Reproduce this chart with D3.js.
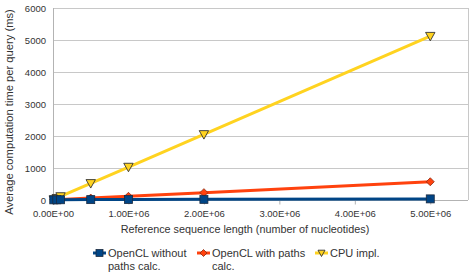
<!DOCTYPE html>
<html>
<head>
<meta charset="utf-8">
<script src="https://cdn.jsdelivr.net/npm/d3@7"></script>
<style>
body { margin: 0; background: #fff; }
text { font-family: "Liberation Sans", Arial, sans-serif; fill: #333; }
</style>
</head>
<body>
<svg id="chart" width="474" height="278"></svg>
<script>
// data
var lengths = [10000, 50000, 100000, 500000, 1000000, 2000000, 5000000]
var openclNoPaths = [5, 6, 8, 12, 15, 20, 35]
var openclPaths = [8, 12, 18, 60, 115, 230, 570]
var cpuImpl = [12, 55, 110, 520, 1030, 2050, 5120]
var xTicks = [0, 1e6, 2e6, 3e6, 4e6, 5e6]
var yTicks = [0, 1000, 2000, 3000, 4000, 5000, 6000]

var series = [
  {name: ["OpenCL without", "paths calc."], values: openclNoPaths, color: "#004586", marker: "square"},
  {name: ["OpenCL with paths", "calc."], values: openclPaths, color: "#ff420e", marker: "diamond"},
  {name: ["CPU impl."], values: cpuImpl, color: "#ffd320", marker: "triangle"}
]

var svg = d3.select("#chart")
var plotLeft = 53, plotRight = 468, plotTop = 8, plotBottom = 200

var x = d3.scaleLinear().domain([0, 5.5e6]).range([plotLeft, plotRight])
var y = d3.scaleLinear().domain([0, 6000]).range([plotBottom, plotTop])

// grid
svg.append("g").selectAll("line")
  .data(yTicks)
  .enter().append("line")
  .attr("x1", plotLeft).attr("x2", plotRight)
  .attr("y1", function(d){ return y(d) + 0.5 }).attr("y2", function(d){ return y(d) + 0.5 })
  .style("stroke", "#c8c8c8")

svg.append("line").attr("x1", plotRight + 0.5).attr("x2", plotRight + 0.5).attr("y1", plotTop).attr("y2", plotBottom)
  .style("stroke", "#c8c8c8")
svg.append("line").attr("x1", plotLeft + 0.5).attr("x2", plotLeft + 0.5).attr("y1", plotTop).attr("y2", plotBottom + 4)
  .style("stroke", "#b3b3b3")

// axes
var xAxis = d3.axisBottom(x).tickValues(xTicks).tickSize(4).tickSizeOuter(0)
  .tickFormat(function(d){ return (d / 1e6).toFixed(2) + "E+" + (d == 0 ? "00" : "06") })
var gx = svg.append("g").attr("transform", "translate(0," + (plotBottom + 0.5) + ")").call(xAxis)
gx.select(".domain").attr("d", "M" + plotLeft + ",0H" + plotRight).style("stroke", "#b3b3b3")
gx.selectAll(".tick line").style("stroke", "#b3b3b3")
gx.selectAll("text").style("font-size", "9.5px").style("fill", "#333").attr("dy", "0.95em")

var yAxis = d3.axisLeft(y).tickValues(yTicks).tickSize(0).tickFormat(d3.format("d"))
var gy = svg.append("g").attr("transform", "translate(" + plotLeft + ",0)").call(yAxis)
gy.select(".domain").remove()
gy.selectAll("text").style("font-size", "9.5px").style("fill", "#333").attr("x", -7)

// axis titles
svg.append("text").attr("x", 245).attr("y", 233)
  .attr("text-anchor", "middle").style("font-size", "10.8px")
  .text("Reference sequence length (number of nucleotides)")
svg.append("text").attr("transform", "translate(13,112) rotate(-90)")
  .attr("text-anchor", "middle").style("font-size", "11.2px")
  .text("Average computation time per query (ms)")

function drawMarker(g, type, color, size) {
  if (type == "square") {
    g.append("rect").attr("x", -size).attr("y", -size).attr("width", size * 2).attr("height", size * 2)
      .style("fill", color).style("stroke", "#1a2a40").style("stroke-width", 0.8)
  } else if (type == "diamond") {
    g.append("path").attr("d", "M0," + (-size) + "L" + size + ",0L0," + size + "L" + (-size) + ",0Z")
      .style("fill", color).style("stroke", "#8a2a10").style("stroke-width", 0.8)
  } else {
    g.append("path").attr("d", "M" + (-size) + "," + (-size * 0.8) + "L" + size + "," + (-size * 0.8) + "L0," + size + "Z")
      .style("fill", color).style("stroke", "#333").style("stroke-width", 0.9)
  }
}

var line = d3.line()
  .x(function(d){ return x(d[0]) })
  .y(function(d){ return y(d[1]) })

// draw back to front: cpu, red, blue
series.slice().reverse().forEach(function(s) {
  var pts = lengths.map(function(l, i){ return [l, s.values[i]] })
  svg.append("path").datum(pts).attr("d", line)
    .style("fill", "none").style("stroke", s.color).style("stroke-width", 3)
  pts.forEach(function(p) {
    var g = svg.append("g").attr("transform", "translate(" + x(p[0]) + "," + y(p[1]) + ")")
    drawMarker(g, s.marker, s.color, s.marker == "triangle" ? 4.7 : 4)
  })
})

// legend
var legendX = [93, 197, 315]
series.forEach(function(s, i) {
  var g = svg.append("g").attr("transform", "translate(" + legendX[i] + ",253)")
  g.append("line").attr("x1", 0).attr("x2", 13).attr("y1", 0).attr("y2", 0)
    .style("stroke", s.color).style("stroke-width", 3)
  var m = g.append("g").attr("transform", "translate(6.5,0)")
  drawMarker(m, s.marker, s.color, 3.5)
  s.name.forEach(function(t, j) {
    g.append("text").attr("x", 15).attr("y", 4 + j * 13).style("font-size", "11px").text(t)
  })
})
</script>
</body>
</html>
